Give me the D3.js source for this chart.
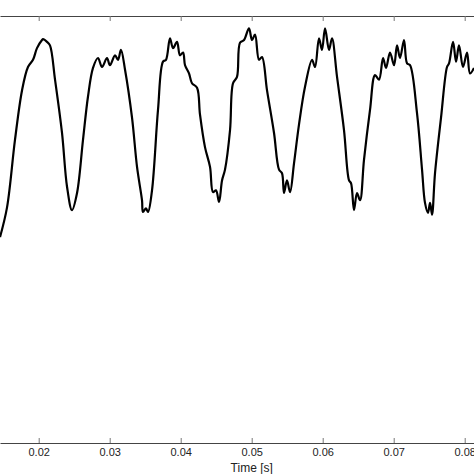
<!DOCTYPE html>
<html>
<head>
<meta charset="utf-8">
<script src="https://cdn.jsdelivr.net/npm/d3@7"></script>
<style>
  body { margin: 0; background: #fff; }
  text { font-family: "Liberation Sans", Arial, sans-serif; }
</style>
</head>
<body>
<svg id="chart"></svg>
<script>
let w = 474;
let h = 474;

// signal samples
const time = [0.01455,0.01554,0.01666,0.01765,0.01849,0.01920,0.01976,0.02047,0.02061,0.02117,0.02159,0.02230,0.02328,0.02399,0.02469,0.02540,0.02624,0.02694,0.02765,0.02835,0.02892,0.02962,0.03004,0.03075,0.03117,0.03159,0.03216,0.03314,0.03385,0.03455,0.03469,0.03511,0.03540,0.03596,0.03680,0.03751,0.03793,0.03849,0.03892,0.03948,0.03990,0.04033,0.04061,0.04117,0.04159,0.04230,0.04272,0.04342,0.04413,0.04455,0.04497,0.04540,0.04582,0.04624,0.04695,0.04737,
  0.04793,0.04835,0.04892,0.04962,0.05004,0.05047,0.05103,0.05145,0.05216,0.05314,0.05385,0.05427,0.05455,0.05497,0.05540,0.05596,0.05666,0.05751,0.05850,0.05892,0.05948,0.05990,0.06033,0.06089,0.06131,0.06202,0.06300,0.06371,0.06399,0.06441,0.06483,0.06526,0.06582,0.06666,0.06737,0.06793,0.06850,0.06892,0.06948,0.07005,0.07047,0.07089,0.07145,0.07188,0.07230,0.07328,0.07399,0.07441,0.07483,0.07512,0.07540,0.07582,0.07667,0.07751,0.07779,0.07836,0.07878,0.07920,0.07976,0.08033,0.08075,0.08131];
const signal = [-1.19,-0.86,-0.11,0.44,0.70,0.78,0.91,1.00,1.01,0.98,0.94,0.56,-0.03,-0.63,-0.89,-0.70,-0.11,0.37,0.69,0.80,0.70,0.80,0.72,0.83,0.78,0.89,0.67,0.14,-0.41,-0.78,-0.91,-0.87,-0.91,-0.67,0.22,0.76,0.78,1.02,0.91,0.98,0.83,0.86,0.72,0.63,0.52,0.47,0.17,-0.19,-0.41,-0.69,-0.67,-0.80,-0.56,-0.44,0.00,0.52,
  0.59,0.97,1.00,1.13,1.00,1.06,0.78,0.81,0.44,-0.03,-0.44,-0.48,-0.70,-0.56,-0.69,-0.37,0.06,0.48,0.78,0.70,1.02,0.89,1.13,0.89,1.02,0.59,0.00,-0.56,-0.59,-0.89,-0.70,-0.78,-0.33,0.22,0.61,0.56,0.80,0.69,0.86,0.72,0.94,0.80,1.00,0.74,0.72,0.19,-0.44,-0.81,-0.92,-0.81,-0.94,-0.48,0.14,0.70,0.74,0.98,0.76,0.94,0.70,0.86,0.63,0.69];
const xTicks = [0.02, 0.03, 0.04, 0.05, 0.06, 0.07, 0.08];

let svg = d3.select('#chart')
    .attr('width', w)
    .attr('height', h);

let x = d3.scaleLinear().domain([0.01455, 0.08131]).range([0, w]);
let y = d3.scaleLinear().domain([-3.478, 1.267]).range([443, 16]);

// bottom axis, ticks pointing in
let bottomAxis = svg.append('g')
    .attr('transform', 'translate(0,443)')
    .call(d3.axisBottom(x).tickValues(xTicks).tickSizeInner(-5).tickSizeOuter(0).tickPadding(5).tickFormat(d3.format('.2f')));
bottomAxis.select('.domain').attr('stroke', '#444').attr('stroke-width', 1.2);
bottomAxis.selectAll('.tick line').attr('stroke', '#777');
bottomAxis.selectAll('text').style('font-size', '11px').attr('fill', '#222');

// top border with ticks
let topAxis = svg.append('g')
    .attr('transform', 'translate(0,16)')
    .call(d3.axisTop(x).tickValues(xTicks).tickSizeInner(-5).tickSizeOuter(0).tickFormat(''));
topAxis.select('.domain').attr('stroke', '#444').attr('stroke-width', 1.2);
topAxis.selectAll('.tick line').attr('stroke', '#777');

svg.append('text')
    .attr('x', x(0.05))
    .attr('y', 472)
    .attr('text-anchor', 'middle')
    .style('font-size', '12px')
    .attr('fill', '#222')
    .text('Time [s]');

let line = d3.line()
    .x((d, i) => x(time[i]))
    .y(d => y(d))
    .curve(d3.curveCatmullRom);

svg.append('path')
    .datum(signal)
    .attr('d', line)
    .attr('fill', 'none')
    .attr('stroke', '#000')
    .attr('stroke-width', 2.2);
</script>
</body>
</html>
